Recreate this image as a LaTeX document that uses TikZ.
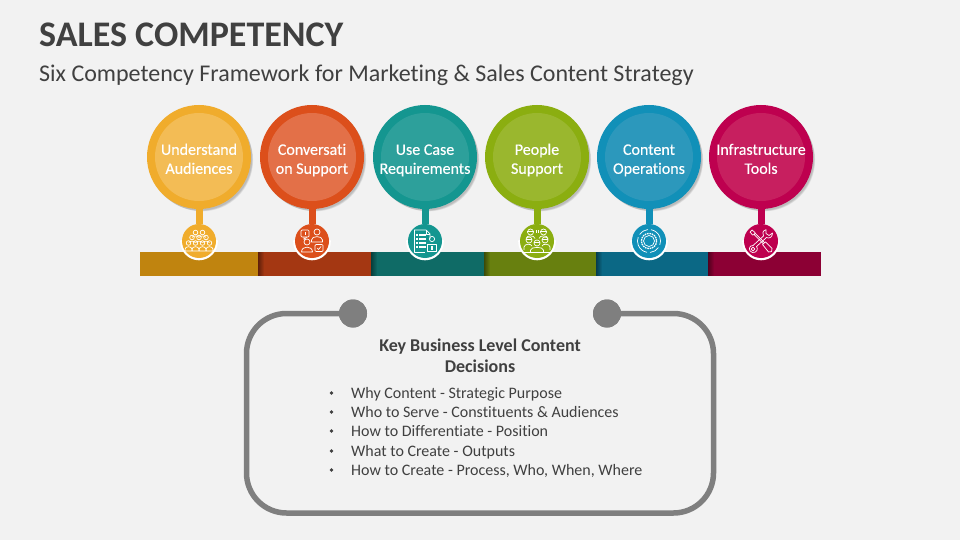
\documentclass[tikz,border=0pt]{standalone}
\usepackage{fontspec}
\setmainfont[Ligatures=NoCommon]{Carlito}
\newfontfamily\semibf[Ligatures=NoCommon,FakeBold=0.35]{Carlito}
\usetikzlibrary{calc}
\definecolor{pagebg}{HTML}{F2F2F2}
\definecolor{ink}{HTML}{404040}
\definecolor{boxgrey}{HTML}{7F7F7F}
\definecolor{aO}{HTML}{F0AC2C}\definecolor{aI}{HTML}{F3BC55}\definecolor{aB}{HTML}{C0840F}
\definecolor{bO}{HTML}{DC4F1B}\definecolor{bI}{HTML}{E37048}\definecolor{bB}{HTML}{A43712}
\definecolor{cO}{HTML}{149690}\definecolor{cI}{HTML}{2DA09B}\definecolor{cB}{HTML}{0F6B66}
\definecolor{dO}{HTML}{8BAE10}\definecolor{dI}{HTML}{9AB72E}\definecolor{dB}{HTML}{68800F}
\definecolor{eO}{HTML}{1190B8}\definecolor{eI}{HTML}{2C98BC}\definecolor{eB}{HTML}{0B6885}
\definecolor{fO}{HTML}{BE004F}\definecolor{fI}{HTML}{C71F5F}\definecolor{fB}{HTML}{8C0034}
\tikzset{
  x=1pt,y=-1pt,
  outercirc/.style={circle,inner sep=0pt,minimum size=104pt},
  innercirc/.style={circle,inner sep=0pt,minimum size=88pt},
  circlabel/.style={inner sep=0pt,text=white,align=center,
    font=\semibf\fontsize{16}{19}\selectfont},
  smallcirc/.style={circle,inner sep=0pt,minimum size=34pt},
  barseg/.style={rectangle,inner sep=0pt,anchor=north west,minimum height=24.5pt},
  stem/.style={line width=7pt},
  icon/.style={draw=white,line width=.7pt,fill=none,line join=round},
  dotnode/.style={circle,fill=boxgrey,inner sep=0pt,minimum size=28pt},
  boxline/.style={draw=boxgrey,line width=5.5pt},
  bodytext/.style={anchor=base west,text=ink,inner sep=0pt,font=\fontsize{16}{19}\selectfont},
}
% one column: name, x, outer, inner, first line, second line
\newcommand{\compcol}[6]{%
  \foreach \k in {0,1,2,3}{
    \fill[black,opacity=.06] (#2+1.2+.6*\k,157+1.5+.6*\k) circle[radius=52-.3*\k];
  }
  \node[outercirc,fill=#3] (o#1) at (#2,157) {};
  \node[innercirc,fill=#4] (i#1) at (#2,157) {};
  \node[circlabel] (t#1) at (#2,160.5) {\strut #5\\\strut #6};
  \begin{scope}
    \clip (#2-30,240) rectangle (#2+30,270);
    \fill[white] (#2,241.5) circle[radius=18.8];
  \end{scope}
  \node[smallcirc,fill=#3] (s#1) at (#2,241) {};
  \draw[stem,draw=#3] (o#1.south) -- (s#1.north);
}
\newcommand{\barshade}[1]{%
  \foreach \k in {0,1,2,3,4,5}{
    \fill[black,opacity={.42-.07*\k}] (#1+\k,251.7) rectangle (#1+\k+1,276.2);
  }
}
\begin{document}
\begin{tikzpicture}
\useasboundingbox (0,0) rectangle (960,540);
\fill[pagebg] (0,0) rectangle (960,540);
% titles
\node[anchor=west,inner sep=0pt,text=ink,font=\bfseries\fontsize{36}{40}\selectfont] (title) at (39,35) {SALES COMPETENCY};
\node[anchor=west,inner sep=0pt,text=ink,font=\fontsize{24}{28}\selectfont] (subtitle) at (39,75) {Six Competency Framework for Marketing \& Sales Content Strategy};
% bar
\node[barseg,fill=aB,minimum width=118pt] (b1) at (140,251.7) {};
\node[barseg,fill=bB,minimum width=113pt] (b2) at (258,251.7) {};
\node[barseg,fill=cB,minimum width=113pt] (b3) at (371,251.7) {};
\node[barseg,fill=dB,minimum width=112pt] (b4) at (484,251.7) {};
\node[barseg,fill=eB,minimum width=112pt] (b5) at (596,251.7) {};
\node[barseg,fill=fB,minimum width=112.5pt] (b6) at (708,251.7) {};
\barshade{258}\barshade{371}\barshade{484}\barshade{596}\barshade{708}
% columns
\compcol{1}{199}{aO}{aI}{Understand}{Audiences}
\compcol{2}{312}{bO}{bI}{Conversati}{on Support}
\compcol{3}{425}{cO}{cI}{Use Case}{Requirements}
\compcol{4}{537}{dO}{dI}{People}{Support}
\compcol{5}{649}{eO}{eI}{Content}{Operations}
\compcol{6}{761}{fO}{fI}{Infrastructure}{Tools}
% icon 1: audience
\begin{scope}[shift={(199,241)},icon]
  \foreach \px/\py in {-3.5/-8.5,3.5/-8.5,-7/-3.5,0/-3.5,7/-3.5,-10.5/2,-3.5/2,3.5/2,10.5/2}{
    \draw (\px,\py) circle[radius=2.3];
  }
  \foreach \px/\py in {-7/0.2,0/0.2,7/0.2,-3.5/-5,3.5/-5}{
    \draw (\px-3.3,\py+1.5) .. controls (\px-3,\py-.5) and (\px+3,\py-.5) .. (\px+3.3,\py+1.5);
  }
  \foreach \px in {-10.5,-3.5,3.5,10.5}{
    \draw (\px-3.4,10) -- (\px-3.4,8) .. controls (\px-3.4,5) and (\px+3.4,5) .. (\px+3.4,8) -- (\px+3.4,10) -- cycle;
  }
\end{scope}
% icon 2: conversation support
\begin{scope}[shift={(312,241)},icon]
  \draw[rounded corners=1pt] (-11,-11) rectangle (-3,-4);
  \draw (-8,-4) -- (-8,-1.5) -- (-5.5,-4);
  \fill[white] (-7.5,-8.7) rectangle (-6.5,-6.5);
  \draw (5,-9) circle[radius=3];
  \draw (-.5,-1) .. controls (-.5,-5.5) and (10.5,-5.5) .. (10.5,-1) -- (10.5,1) -- (-.5,1) -- cycle;
  \draw (-5,1) circle[radius=3];
  \draw (-10.5,11) .. controls (-10.5,4.5) and (.5,4.5) .. (.5,11) -- cycle;
  \draw[rounded corners=1pt] (3,3.5) rectangle (11,10.5);
  \draw (5,7) -- (6.5,8.5) -- (9,5.5);
\end{scope}
% icon 3: document and person
\begin{scope}[shift={(425,241)},icon]
  \draw (-11,-11) -- (1,-11) -- (5,-7) -- (5,-2);
  \draw (1,-11) -- (1,-7) -- (5,-7);
  \draw (-11,-11) -- (-11,11) -- (0,11);
  \foreach \py in {-6,-2,2,6}{
    \fill[white] (-9.5,\py-1) rectangle (-7.5,\py+1);
    \fill[white] (-5.8,\py-.7) rectangle (0.5,\py+.7);
  }
  \draw (7,-2) circle[radius=2.6];
  \draw (2.5,10.5) -- (2.5,3) -- (11,3) -- (11,10.5) -- cycle;
  \fill[white] (6,4.5) rectangle (7.6,9);
\end{scope}
% icon 4: people group
\begin{scope}[shift={(537,241)},icon]
  \foreach \px/\py in {-6.5/-9,6.5/-9,-8/-1,8/-1,0/2}{
    \draw (\px,\py) circle[radius=3];
    \draw (\px-3.1,\py-.8) -- (\px+3.1,\py-.8);
  }
  \foreach \px/\py in {-6.5/-5.5,6.5/-5.5}{
    \draw (\px-4.5,\py+3) .. controls (\px-4,\py-.5) and (\px+4,\py-.5) .. (\px+4.5,\py+3);
  }
  \fill[white] (-1.5,-11) rectangle (-.5,-8);
  \fill[white] (.5,-11) rectangle (1.5,-8);
  \draw (-13,9) -- (-13,6) .. controls (-12.5,2.5) and (-6,2.5) .. (-5,5);
  \draw (13,9) -- (13,6) .. controls (12.5,2.5) and (6,2.5) .. (5,5);
  \draw (-6.5,11) -- (-6.5,9) .. controls (-6,5.5) and (6,5.5) .. (6.5,9) -- (6.5,11);
  \draw (-13,11) -- (13,11);
\end{scope}
% icon 5: cycle gear
\begin{scope}[shift={(649,241)},icon]
  \draw (0,0) circle[radius=5.5];
  \draw[dash pattern=on 1.6pt off .8pt,line width=1.3pt] (0,0) circle[radius=7.6];
  \draw (100:11.5) arc[start angle=100,end angle=200,radius=11.5];
  \draw (280:11.5) arc[start angle=280,end angle=380,radius=11.5];
  \draw (215:11.5) arc[start angle=215,end angle=265,radius=11.5];
  \draw (35:11.5) arc[start angle=35,end angle=85,radius=11.5];
\end{scope}
% icon 6: wrench and screwdriver
\begin{scope}[shift={(761,241)},icon]
  % screwdriver
  \draw (-11,-9) -- (-9,-11) -- (-6,-8.5) -- (-6.5,-6.5) -- (-8.5,-6) -- cycle;
  \draw (-7.5,-7) -- (2.5,3);
  \draw (-6.2,-8) -- (3.8,2);
  \draw (1.5,3.5) -- (4.5,.8) -- (11,7.5) .. controls (12,10) and (10,12) .. (7.5,11) -- cycle;
  % wrench
  \draw (5,-11.3) .. controls (1.5,-10.5) and (1,-7) .. (2.5,-5) -- (-8,4.5)
        .. controls (-12.5,4) and (-13,10.5) .. (-8.5,11.5)
        .. controls (-4,12) and (-2.5,7.5) .. (-4.5,5.5) -- (5.5,-3.5)
        .. controls (8.5,-2) and (11.5,-4) .. (11.5,-8) -- (8,-5.5) -- (5,-7.5) -- cycle;
  \draw (-8,8) circle[radius=1.8];
\end{scope}
% box
\node[dotnode] (d1) at (353,313.5) {};
\node[dotnode] (d2) at (607,313.5) {};
\draw[boxline,rounded corners=40pt] (d1.center) -- (246.5,313.5) -- (246.5,513) -- (713.5,513) -- (713.5,313.5) -- (d2.center);
\node[dotnode] at (353,313.5) {};
\node[dotnode] at (607,313.5) {};
\node[text=ink,align=center,inner sep=0pt,font=\bfseries\fontsize{18}{21}\selectfont] (head) at (480,356) {Key Business Level Content\\Decisions};
\foreach \yy/\tx [count=\i] in {393/Why Content - Strategic Purpose,412/Who to Serve - Constituents \& Audiences,431/How to Differentiate - Position,451/What to Create - Outputs,470/{How to Create - Process, Who, When, Where}}{
  \fill[ink] (331.5,\yy) circle[radius=1.9];
  \node[bodytext] (li\i) at (351,\yy+5) {\tx};
}
\end{tikzpicture}
\end{document}
